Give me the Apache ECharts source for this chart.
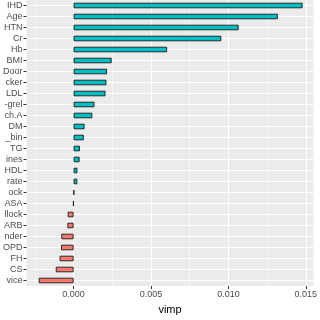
<!DOCTYPE html>
<html>
<head>
<meta charset="utf-8">
<script src="https://cdn.jsdelivr.net/npm/echarts@6/dist/echarts.min.js"></script>
<style>html,body{margin:0;padding:0;background:#fff}#c{width:320px;height:320px}</style>
</head>
<body>
<div id="c"></div>
<script>
const vars = ["IHD","Age","HTN","Cr","Hb","BMI","Door","cker","LDL","-grel","ch.A","DM","_bin","TG","ines","HDL","rate","ock","ASA","llock","ARB","nder","OPD","FH","CS","vice"];
const vimp = [0.01479,0.01319,0.01066,0.00954,0.00604,0.00246,0.00216,0.00212,0.00206,0.00135,0.00121,0.00071,0.00066,0.00041,0.00039,0.00025,0.00024,0.00003,-0.00002,-0.00038,-0.00040,-0.00079,-0.00081,-0.00090,-0.00115,-0.00225];
const majorTicks = [0, 0.005, 0.010, 0.015];
const minorTicks = [-0.0025, 0.0025, 0.0075, 0.0125];
const tickLabels = ["0.000","0.005","0.010","0.015"];
const xName = "vimp";

const XMIN = -0.00304, XMAX = 0.0155;
const font = "Liberation Sans, Arial, sans-serif";
const chart = echarts.init(document.getElementById('c'), null, {renderer:'canvas'});
chart.setOption({
  animation: false,
  backgroundColor: '#fff',
  grid: {left: 23, right: 0, top: 0, height: 292.5, show: true, backgroundColor: '#EBEBEB', borderWidth: 0, containLabel: false},
  xAxis: [{
    type: 'value', min: XMIN, max: XMAX,
    name: xName, nameLocation: 'middle', nameGap: 18,
    nameTextStyle: {color: '#000', fontSize: 11, fontFamily: font},
    axisLine: {show: false, onZero: false},
    axisTick: {show: true, length: 3, lineStyle: {color: '#333', width: 1}, customValues: majorTicks},
    axisLabel: {customValues: majorTicks, margin: 4, color: '#4D4D4D', fontSize: 9, fontFamily: font,
      formatter: v => tickLabels[majorTicks.findIndex(t => Math.abs(t - v) < 1e-9)] || ''},
    splitLine: {show: true, lineStyle: {color: '#fff', width: 1.1}}
  },{
    type: 'value', min: XMIN, max: XMAX, position: 'bottom',
    axisLine: {show: false, onZero: false},
    axisTick: {show: false, customValues: minorTicks},
    axisLabel: {show: false},
    splitLine: {show: true, lineStyle: {color: '#fff', width: 0.5}}
  }],
  yAxis: {
    type: 'category', data: vars, inverse: true,
    axisLine: {show: false, onZero: false},
    axisTick: {show: true, alignWithLabel: true, length: 3, lineStyle: {color: '#333', width: 1}},
    axisLabel: {margin: 4, color: '#4D4D4D', fontSize: 9, fontFamily: font, interval: 0},
    splitLine: {show: true, alignWithLabel: true, lineStyle: {color: '#fff', width: 1.1}}
  },
  series: [{
    type: 'bar', data: vimp, barWidth: '50%',
    itemStyle: {
      color: p => p.value >= 0 ? '#00BFC4' : '#F8766D',
      borderColor: '#1a1a1a', borderWidth: 0.9
    }
  }]
});
</script>
</body>
</html>
